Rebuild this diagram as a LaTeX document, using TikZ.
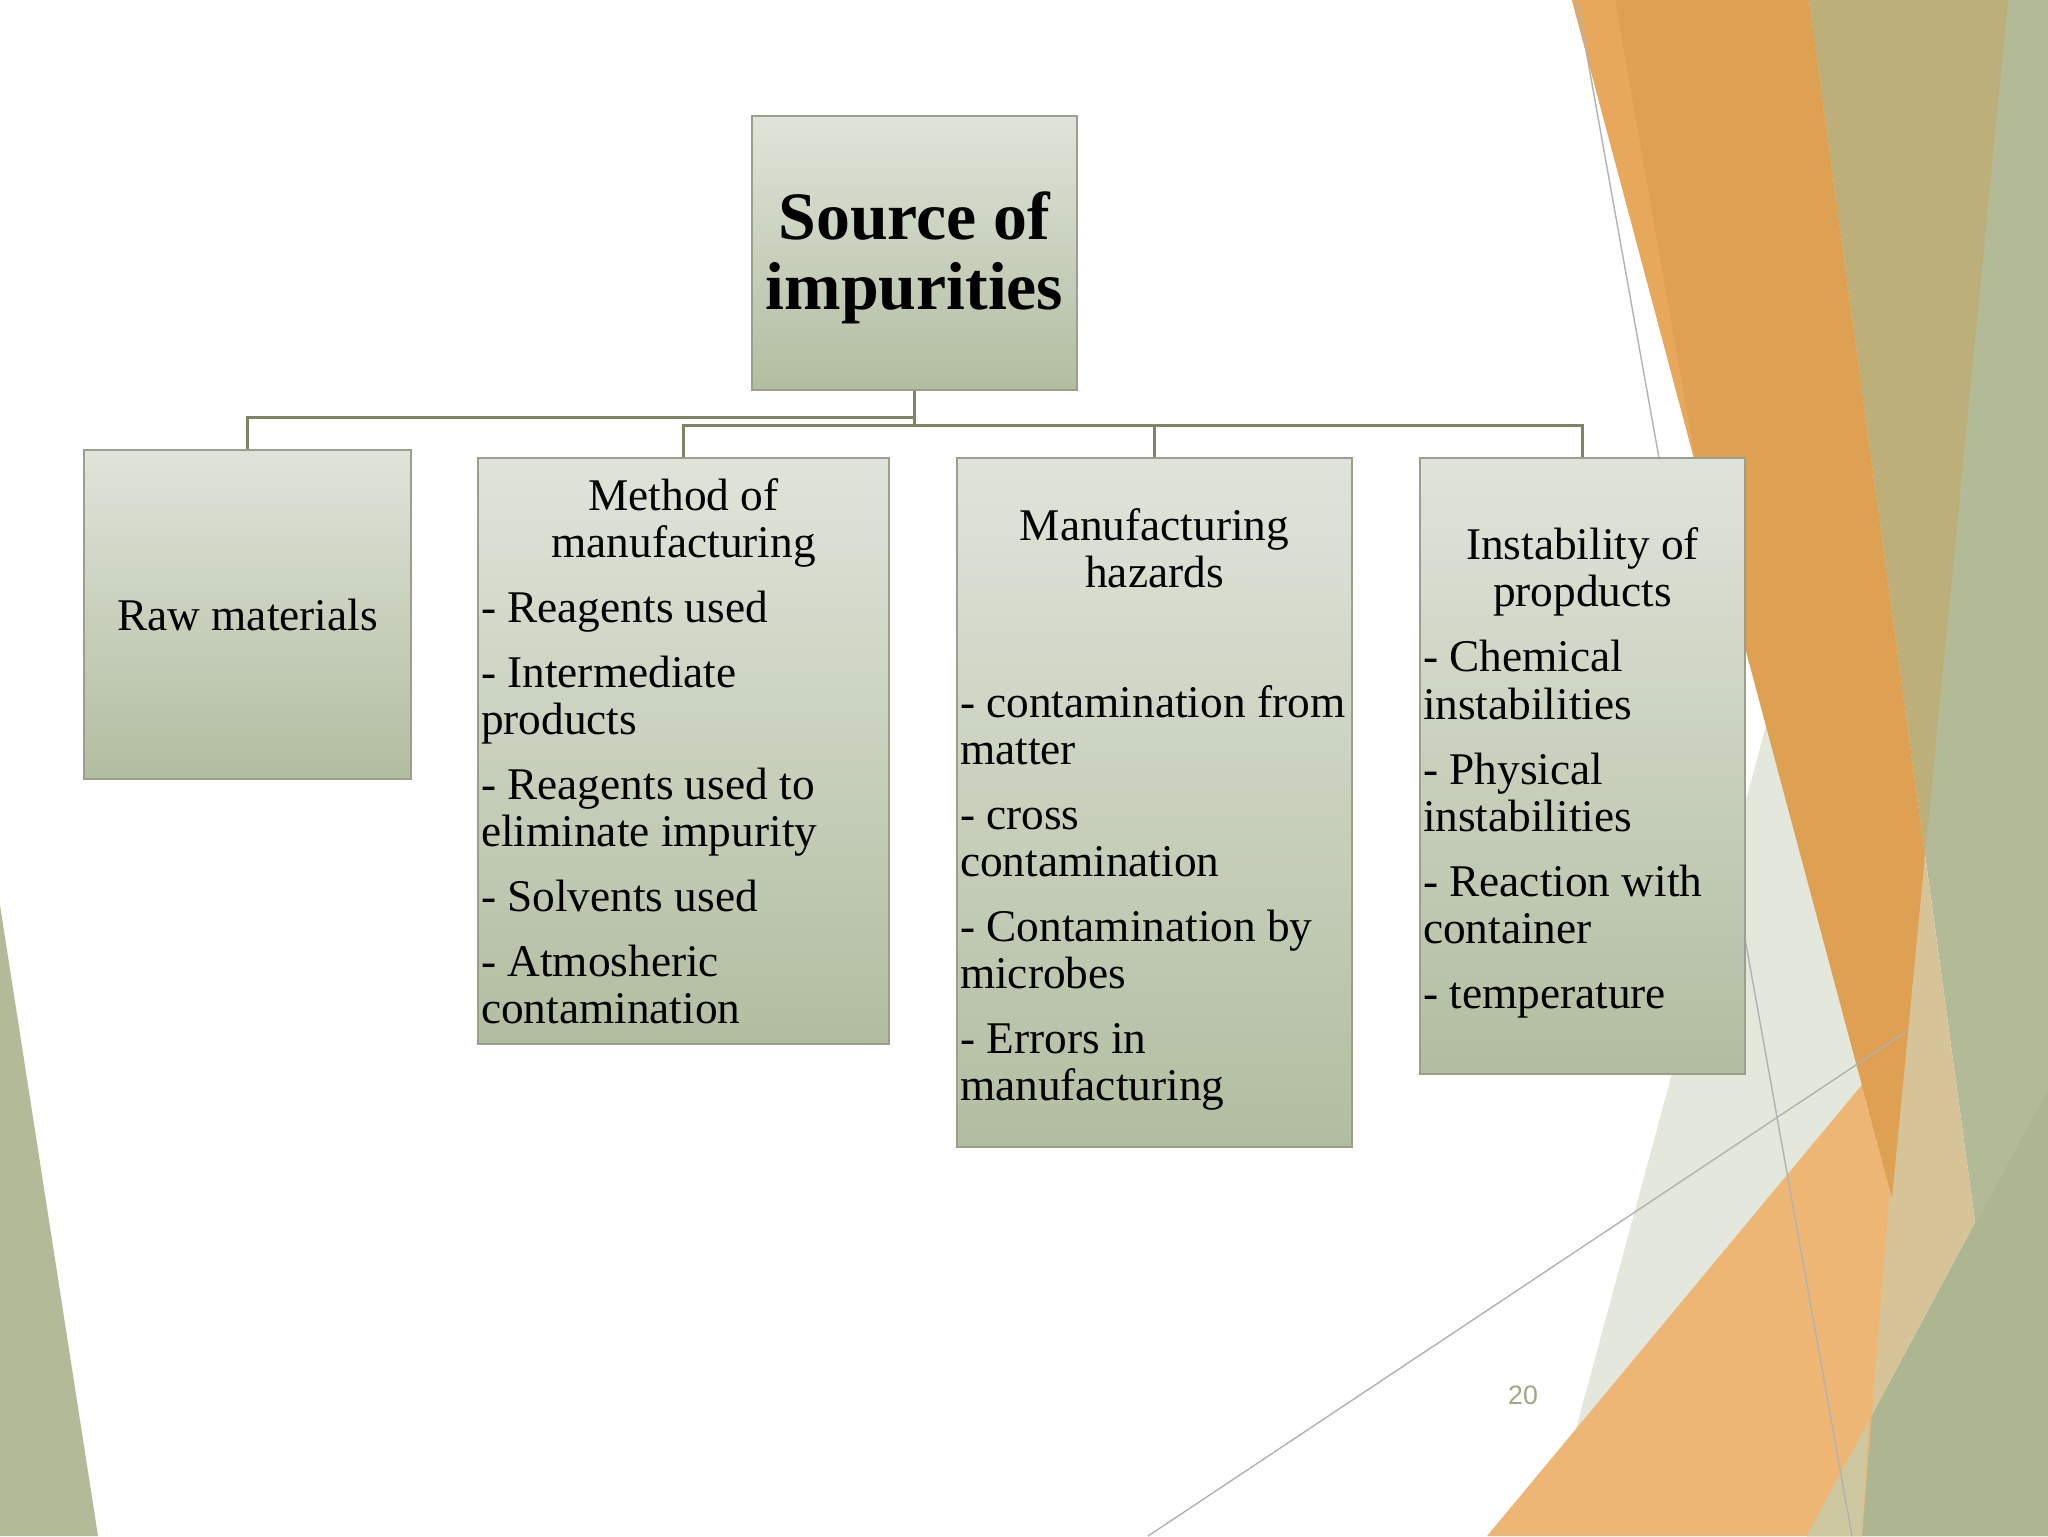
\documentclass[tikz,border=0pt]{standalone}
\usepackage{fontspec}
\setmainfont{Liberation Serif}
\newfontfamily\slidesans{Liberation Sans}
\usepackage{xcolor}
\usepackage{tikz}
\usetikzlibrary{positioning, calc}

\definecolor{cardtop}{HTML}{DFE4DA}
\definecolor{cardbottom}{HTML}{B2BDA0}
\definecolor{cardedge}{HTML}{9AA08C}
\definecolor{linkolive}{HTML}{7E8566}
\definecolor{leafgreen}{HTML}{B2BA97}
\definecolor{deepgreen}{HTML}{ACB690}
\definecolor{deeporange}{HTML}{DEA052}
\definecolor{lightorange}{HTML}{E8A85C}
\definecolor{softorange}{HTML}{EEB674}
\definecolor{khaki}{HTML}{BCAF7A}
\definecolor{sandtan}{HTML}{D6C498}
\definecolor{mixtan}{HTML}{CDC8A0}
\definecolor{palemist}{HTML}{E3E7DC}
\definecolor{pagegray}{HTML}{A4A586}

\begin{document}
\begin{tikzpicture}[
    x=0.1mm, y=-0.1mm,
    card/.style={rectangle, draw=cardedge, line width=0.6pt, top color=cardtop, bottom color=cardbottom,
        inner xsep=0.3mm, inner ysep=0pt, font=\fontsize{12.9}{13.4}\selectfont,
        execute at begin node={\setlength{\parskip}{5.1pt}\setlength{\parindent}{0pt}}},
    listcard/.style={card, align=flush left},
    link/.style={draw=linkolive, line width=0.85pt},
    facetline/.style={draw=gray!60, line width=0.4pt}
]
    \useasboundingbox (0,0) rectangle (2048,1536);

    % Background facets
    \fill[white] (0,0) rectangle (2048,1536);
    \fill[leafgreen] (0,905) -- (98,1536) -- (0,1536) -- cycle;
    \fill[palemist] (1547,1536) -- (1800,600) -- (1950,1000) -- cycle;
    \fill[leafgreen] (1809,0) -- (2048,0) -- (2048,1536) -- (1807,1536) -- (1975,1222) -- cycle;
    \fill[deepgreen] (1807,1536) -- (2048,1090) -- (2048,1536) -- cycle;
    \fill[sandtan] (1925,855) -- (1975,1222) -- (1869,1420) -- (1895,1050) -- cycle;
    \fill[softorange] (1487,1536) -- (1880,1063) -- (1900,1063) -- (1862,1536) -- cycle;
    \fill[mixtan] (1869,1420) -- (1862,1536) -- (1807,1536) -- cycle;
    \fill[khaki] (1809,0) -- (2008,0) -- (1925,855) -- cycle;
    \fill[deeporange] (1572,0) -- (1809,0) -- (1925,855) -- (1892,1198) -- cycle;
    \fill[lightorange] (1572,0) -- (1615,0) -- (1697,470) -- cycle;
    \draw[facetline] (1577,0) -- (1852,1536);
    \draw[facetline] (1148,1536) -- (1907,1031);

    % Root
    \node[card, minimum width=32.5mm, minimum height=27.4mm, align=center,
        font=\fontsize{19.3}{19.9}\selectfont\bfseries] (source) at (914.5,253) {\rule{0pt}{16.5pt}Source of\\impurities};

    % Branches
    \node[card, minimum width=32.7mm, minimum height=32.9mm] (raw) at (247.5,614.5) {Raw materials};
    \node[listcard, minimum width=41.1mm, minimum height=58.6mm, text width=40.5mm] (method) at (683.5,751)
        {{\centering Method of\\manufacturing\par}
         - Reagents used\par
         - Intermediate\\products\par
         - Reagents used to\\eliminate impurity\par
         - Solvents used\par
         - Atmosheric\\contamination};
    \node[listcard, minimum width=39.5mm, minimum height=68.9mm, text width=38.9mm] (hazard) at (1154.5,802.5)
        {{\centering \rule{0pt}{13pt}Manufacturing\\hazards\par}
         \mbox{}\par
         - contamination from\\matter\par
         - cross\\contamination\par
         - Contamination by\\microbes\par
         - Errors in\\manufacturing};
    \node[listcard, minimum width=32.5mm, minimum height=61.6mm, text width=31.9mm] (instab) at (1582.5,766)
        {{\centering \rule{0pt}{13pt}Instability of\\propducts\par}
         - Chemical\\instabilities\par
         - Physical\\instabilities\par
         - Reaction with\\container\par
         - temperature};

    % Links
    \draw[link] (source.south) -- ++(0,26) -| (raw.north);
    \draw[link] (source.south) -- ++(0,34) -| (method.north);
    \draw[link] (source.south) -- ++(0,34) -| (hazard.north);
    \draw[link] (source.south) -- ++(0,34) -| (instab.north);

    % Slide number
    \node[font=\slidesans\fontsize{7.6}{9}\selectfont, text=pagegray] (pagenum) at (1523,1395) {20};

\end{tikzpicture}
\end{document}
